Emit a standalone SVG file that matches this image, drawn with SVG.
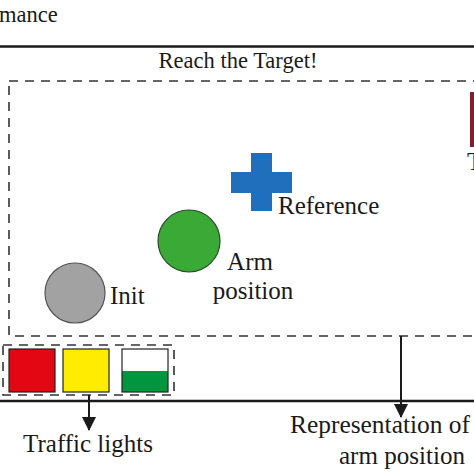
<svg xmlns="http://www.w3.org/2000/svg" width="474" height="474" viewBox="0 0 474 474">
<style>
text{font-family:"Liberation Serif","Times New Roman",serif;fill:#1a1a1a}
.lbl{font-size:25px}
.dash{fill:none;stroke:#333;stroke-width:1.6;stroke-dasharray:9 7}
.rule{stroke:#1a1a1a;stroke-width:2.5}
.arr{stroke:#1a1a1a;stroke-width:2;fill:none}
.sq{stroke:#222;stroke-width:1.2}
</style>
<defs>
<marker id="ah" viewBox="0 0 14 14" refX="13" refY="7" markerWidth="14" markerHeight="14" markerUnits="userSpaceOnUse" orient="auto">
<path d="M0,0 L14,7 L0,14 Z" fill="#1a1a1a"/>
</marker>
</defs>
<rect width="474" height="474" fill="#fff"/>
<text x="-1" y="22" style="font-size:22.5px">mance</text>
<line class="rule" x1="0" y1="46.5" x2="474" y2="46.5"/>
<line class="rule" x1="0" y1="401" x2="474" y2="401"/>
<text x="238" y="68" text-anchor="middle" style="font-size:22.5px">Reach the Target!</text>
<rect class="dash" x="9" y="81" width="480" height="255"/>
<g id="target">
<rect x="470" y="92" width="10" height="55" fill="#8b1a2b"/>
<text class="lbl" x="467" y="170">T</text>
</g>
<g id="reference">
<path d="M251,153 H272 V172 H292 V193 H272 V211 H251 V193 H231 V172 H251 Z" fill="#1f6fbd"/>
<text class="lbl" x="278" y="214">Reference</text>
</g>
<g id="arm">
<circle cx="189" cy="241" r="31" fill="#3aa935" stroke="#2a4a2a" stroke-width="1.2"/>
<text class="lbl" x="250" y="270" text-anchor="middle">Arm</text>
<text class="lbl" x="253" y="299" text-anchor="middle">position</text>
</g>
<g id="init">
<circle cx="75" cy="293" r="30" fill="#a2a2a2" stroke="#555" stroke-width="1.2"/>
<text class="lbl" x="110" y="304">Init</text>
</g>
<g id="traffic">
<rect class="dash" x="3" y="345" width="171" height="50"/>
<rect class="sq" x="9" y="349" width="46" height="43" fill="#e30613"/>
<rect class="sq" x="63" y="349" width="46" height="43" fill="#ffec00"/>
<rect x="122" y="371" width="46" height="21" fill="#009640"/>
<rect class="sq" x="122" y="349" width="46" height="43" fill="none"/>
</g>
<g id="connectors">
<line class="arr" x1="89" y1="395" x2="89" y2="430" marker-end="url(#ah)"/>
<line class="arr" x1="401" y1="336" x2="401" y2="417" marker-end="url(#ah)"/>
</g>
<g id="labels">
<text class="lbl" x="88" y="452" text-anchor="middle">Traffic lights</text>
<text class="lbl" x="290" y="433" textLength="180" lengthAdjust="spacingAndGlyphs">Representation of</text>
<text class="lbl" x="339" y="464" textLength="126" lengthAdjust="spacingAndGlyphs">arm position</text>
</g>
</svg>
